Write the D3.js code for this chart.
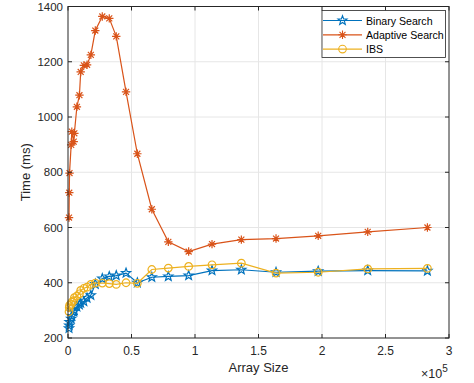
<!DOCTYPE html>
<html><head><meta charset="utf-8">
<script src="https://cdn.jsdelivr.net/npm/d3@7"></script>
<style>
html,body{margin:0;padding:0;background:#fff;}
svg{display:block;font-family:"Liberation Sans",Arial,Helvetica,sans-serif;}
</style></head>
<body>
<svg id="c" width="474" height="383"></svg>
<script>
const sizes    = [800,1000,1200,2500,3000,4500,5000,7000,9000,10000,12500,15000,18000,21500,27000,32500,38000,45700,54600,66000,79000,95000,113400,136500,163800,197000,236000,283000];
const binary   = [235,245,258,270,280,295,300,313,320,327,332,345,355,395,415,423,426,435,400,420,423,426,444,447,438,442,444,443];
const adaptive = [636,726,797,899,947,911,941,1037,1079,1163,1187,1189,1225,1313,1364,1357,1292,1091,867,666,548,513,540,556,560,570,584,600];
const ibs      = [295,310,318,322,330,335,346,352,360,372,380,384,394,399,399,397,394,400,398,448,453,459,465,471,435,438,450,452];
const seriesNames = ["Binary Search","Adaptive Search","IBS"];
const xTicks = [0,50000,100000,150000,200000,250000,300000];
const xTickLabels = ["0","0.5","1","1.5","2","2.5","3"];
const yTicks = [200,400,600,800,1000,1200,1400];

const colors = ["#0072BD","#D95319","#EDB120"];
const markers = ["star","asterisk","circle"];
const svg = d3.select("#c");
const L=68,R=449,T=6.5,B=338;
const x = d3.scaleLinear().domain([0,300000]).range([L,R]);
const y = d3.scaleLinear().domain([200,1400]).range([B,T]);
const axisCol="#262626";

// grid
const g = svg.append("g");
g.selectAll(".gx").data(xTicks.slice(1,-1)).enter().append("line")
 .attr("x1",d=>x(d)).attr("x2",d=>x(d)).attr("y1",T).attr("y2",B)
 .attr("stroke","#e6e6e6").attr("stroke-width",1);
g.selectAll(".gy").data(yTicks.slice(1,-1)).enter().append("line")
 .attr("y1",d=>y(d)).attr("y2",d=>y(d)).attr("x1",L).attr("x2",R)
 .attr("stroke","#e6e6e6").attr("stroke-width",1);

function markerPath(type, r){
  if(type==="star"){
    let p="";
    for(let i=0;i<10;i++){
      const rr = i%2===0 ? r : r*0.42;
      const a = -Math.PI/2 + i*Math.PI/5;
      p += (i===0?"M":"L")+(rr*Math.cos(a)).toFixed(2)+","+(rr*Math.sin(a)).toFixed(2);
    }
    return p+"Z";
  }
  if(type==="asterisk"){
    let p="";
    for(let i=0;i<4;i++){
      const a = i*Math.PI/4;
      p += "M"+(r*Math.cos(a)).toFixed(2)+","+(r*Math.sin(a)).toFixed(2)+"L"+(-r*Math.cos(a)).toFixed(2)+","+(-r*Math.sin(a)).toFixed(2);
    }
    return p;
  }
  return "M"+r+",0A"+r+","+r+" 0 1,1 "+(-r)+",0A"+r+","+r+" 0 1,1 "+r+",0Z";
}
const mSize=[4.8,4.2,3.8];

const allSeries=[binary,adaptive,ibs];
const line = d3.line().x((d,i)=>x(sizes[i])).y(d=>y(d));
const drawOrder=[1,0,2];
drawOrder.forEach(s=>{
  const vals=allSeries[s];
  svg.append("path").attr("d",line(vals)).attr("fill","none")
    .attr("stroke",colors[s]).attr("stroke-width",1.2);
  svg.append("g").selectAll("path").data(vals).enter().append("path")
    .attr("transform",(d,i)=>`translate(${x(sizes[i])},${y(d)})`)
    .attr("d",markerPath(markers[s],mSize[s]))
    .attr("fill","none").attr("stroke",colors[s]).attr("stroke-width",1.2);
});

// axes box
svg.append("rect").attr("x",L).attr("y",T).attr("width",R-L).attr("height",B-T)
 .attr("fill","none").attr("stroke",axisCol).attr("stroke-width",1);
const tl=4;
xTicks.forEach((t,i)=>{
  svg.append("line").attr("x1",x(t)).attr("x2",x(t)).attr("y1",B).attr("y2",B-tl).attr("stroke",axisCol);
  svg.append("line").attr("x1",x(t)).attr("x2",x(t)).attr("y1",T).attr("y2",T+tl).attr("stroke",axisCol);
  svg.append("text").attr("x",x(t)).attr("y",B+16.5).attr("text-anchor","middle")
   .attr("font-size",12).attr("fill",axisCol).text(xTickLabels[i]);
});
yTicks.forEach(t=>{
  svg.append("line").attr("y1",y(t)).attr("y2",y(t)).attr("x1",L).attr("x2",L+tl).attr("stroke",axisCol);
  svg.append("line").attr("y1",y(t)).attr("y2",y(t)).attr("x1",R).attr("x2",R-tl).attr("stroke",axisCol);
  svg.append("text").attr("x",L-5).attr("y",y(t)+4).attr("text-anchor","end")
   .attr("font-size",11.5).attr("fill",axisCol).text(t);
});
svg.append("text").attr("x",(L+R)/2).attr("y",372).attr("text-anchor","middle")
 .attr("font-size",13).attr("fill",axisCol).text("Array Size");
const ex=svg.append("text").attr("x",421).attr("y",378).attr("font-size",12.5).attr("fill",axisCol);
ex.append("tspan").text("×10");
ex.append("tspan").attr("dy",-6).attr("font-size",10).text("5");
svg.append("text").attr("transform",`translate(30,${(T+B)/2}) rotate(-90)`).attr("text-anchor","middle")
 .attr("font-size",13).attr("fill",axisCol).text("Time (ms)");

// legend
const lg=svg.append("g");
lg.append("rect").attr("x",322).attr("y",10.5).attr("width",123.5).attr("height",47)
 .attr("fill","#fff").attr("stroke",axisCol).attr("stroke-width",0.8);
seriesNames.forEach((n,i)=>{
  const yy=20.5+i*14.3;
  lg.append("line").attr("x1",323).attr("x2",362).attr("y1",yy).attr("y2",yy).attr("stroke",colors[i]).attr("stroke-width",1.2);
  lg.append("path").attr("transform",`translate(342.5,${yy})`).attr("d",markerPath(markers[i],mSize[i]))
   .attr("fill","none").attr("stroke",colors[i]).attr("stroke-width",1.1);
  lg.append("text").attr("x",366).attr("y",yy+4).attr("font-size",10.6).attr("fill","#000").text(n);
});
</script>
</body></html>
